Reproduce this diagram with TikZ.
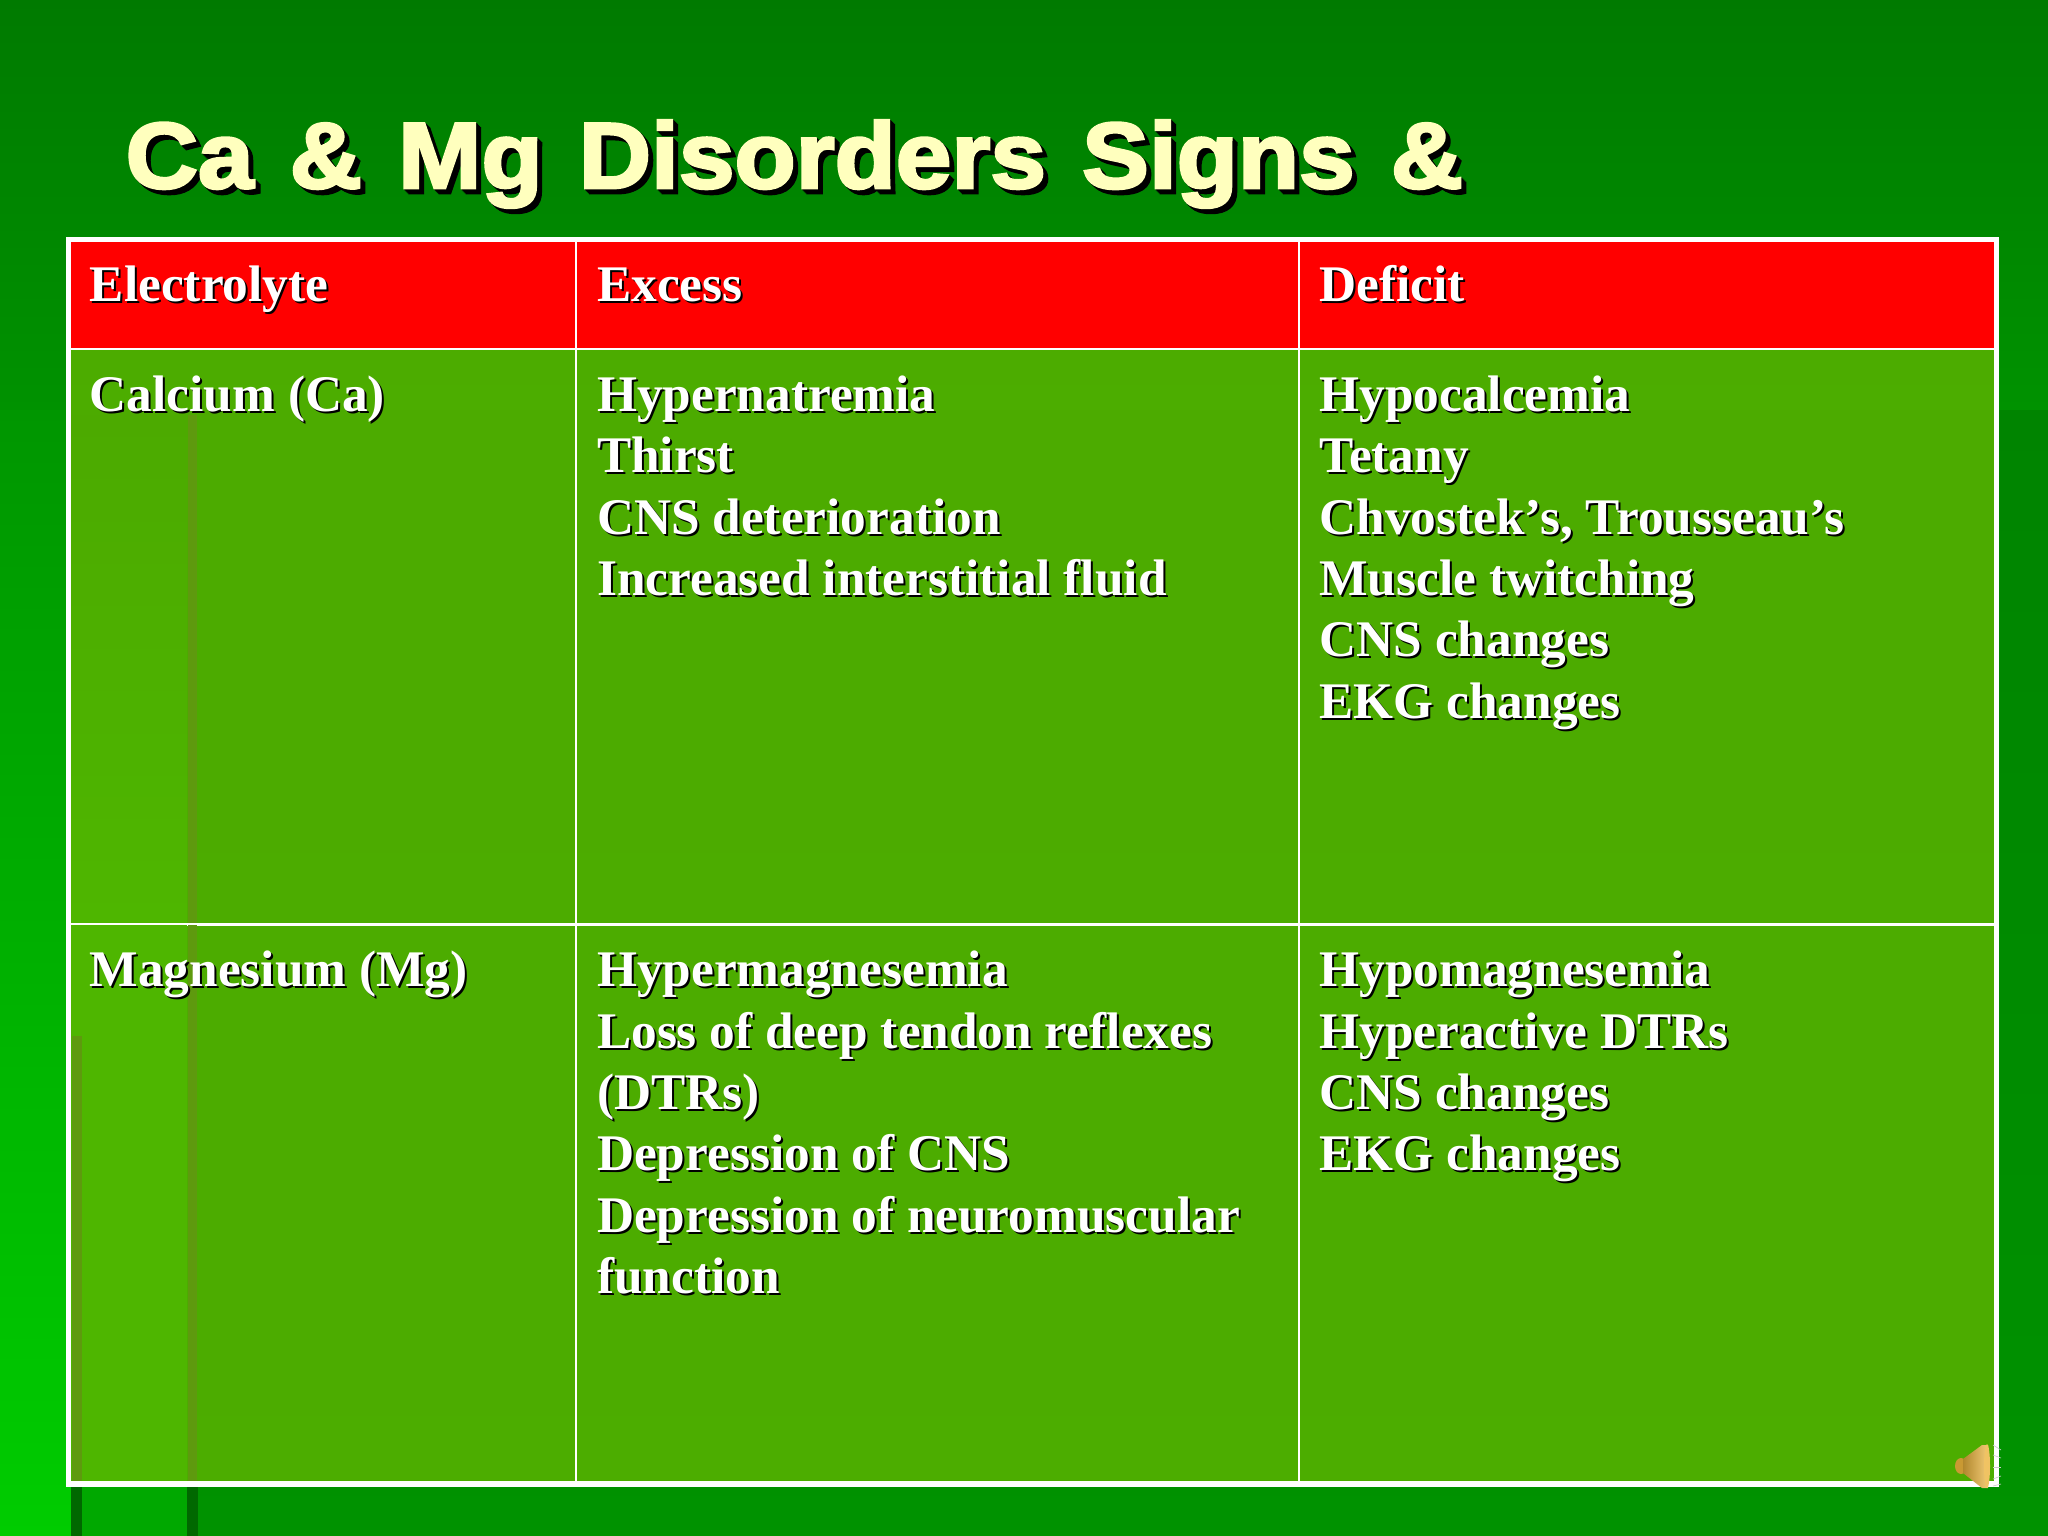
\documentclass[tikz,border=0pt]{standalone}
\usepackage{fontspec}
\setmainfont{Liberation Serif}
\newfontfamily\titlefont[FakeStretch=1.07,WordSpace=1.3,BoldFeatures={FakeBold=3}]{Liberation Sans}
\usetikzlibrary{matrix,positioning,calc}
\definecolor{slidetop}{RGB}{0,122,0}
\definecolor{slidemid}{RGB}{0,146,0}
\definecolor{slideband}{RGB}{0,132,0}
\definecolor{slideleft}{RGB}{0,204,0}
\definecolor{slidestrip}{RGB}{0,150,0}
\definecolor{slidepanel}{RGB}{0,168,0}
\definecolor{cellgreen}{RGB}{90,178,0}
\definecolor{cellbright}{RGB}{78,182,0}
\definecolor{cellplain}{RGB}{76,170,0}
\definecolor{cellred}{RGB}{255,0,0}
\definecolor{titleyellow}{RGB}{255,255,190}
\definecolor{stripegreen}{RGB}{0,104,0}
\definecolor{stripecell}{RGB}{94,154,14}
\definecolor{speakergold}{RGB}{236,180,60}
\newcommand{\celltext}[3]{%
    \node[cell text,text=black,xshift=0.02cm,yshift=-0.02cm] (#1-shadow) at (#2) {\strut #3};
    \node[cell text] (#1) at (#2) {\strut #3};
}
\tikzset{
    cell text/.style={anchor=north west,align=left,text=white,inner sep=0pt,
        font=\fontsize{14.6}{17.45}\selectfont\bfseries},
    title text/.style={anchor=base west,inner sep=0pt,
        font=\fontsize{26.6}{30}\titlefont\bfseries},
    grid cell/.style={rectangle,draw=white,line width=0.012cm,inner sep=0pt,outer sep=0pt,
        fill=cellgreen,fill opacity=0.85},
    stripe/.style={draw=none,fill=stripegreen},
    stripe in cell/.style={draw=none,fill=stripecell}
}

\begin{document}
\begin{tikzpicture}[x=0.01cm,y=-0.01cm]
\useasboundingbox (0,0) rectangle (2048,1536);

%slide background in bands
\shade[top color=slidetop,bottom color=slidemid] (0,0) rectangle (2048,410);
\shade[top color=slideband,bottom color=slidemid] (0,410) rectangle (2048,1536);
\shade[top color=slidestrip,bottom color=slideleft] (0,410) rectangle (71,1536);
\fill[slidepanel] (82,1484) rectangle (187,1536);

%stripes below the table
\fill[stripe] (71,1484) rectangle (82,1536);
\fill[stripe] (187,1484) rectangle (198,1536);

%grid of the table (m-row-column)
\matrix[matrix of nodes,
        inner sep=0pt,
        outer sep=0pt,
        column sep=0pt,
        row sep=0pt,
        nodes={grid cell},
        nodes in empty cells,
        column 1/.style={nodes={minimum width=5.068cm}},
        column 2/.style={nodes={minimum width=7.208cm}},
        column 3/.style={nodes={minimum width=6.968cm}},
        row 1/.style={nodes={minimum height=1.088cm}},
        row 2/.style={nodes={minimum height=5.738cm}},
        row 3/.style={nodes={minimum height=5.588cm}},
        anchor=north west
        ] (m) at (68,239) {
    |[fill=cellred,fill opacity=1]| & |[fill=cellred,fill opacity=1]| & |[fill=cellred,fill opacity=1]| \\
    & & \\
    & & \\
    };

%brighter left panel and stripes seen through the cells
\shade[top color=cellplain,bottom color=cellbright] (71,415) rectangle (187,924);
\fill[cellbright] (71,924) rectangle (187,1482);
\fill[stripe in cell] (188,415) rectangle (197,1482);
\fill[stripe in cell] (72,1036) rectangle (82,1482);
\draw[white,line width=0.025cm] (m-2-1.south west) -- (m-2-3.south east);
\draw[white,line width=0.055cm] (m-1-1.north west) -- (m-1-3.north east) -- (m-3-3.south east) -- (m-3-1.south west) -- cycle;

%title with its block shadow
\foreach \d in {1,...,5}{
    \node[title text,text=black] (title-\d) at ($(125,188)+(\d,\d)$) {Ca \& Mg Disorders Signs \&};
}
\node[title text,text=titleyellow] (title) at (125,188) {Ca \& Mg Disorders Signs \&};

\celltext{head-a}{$(m-1-1.north west)+(20.5,18)$}{Electrolyte}
\celltext{head-b}{$(m-1-2.north west)+(19.5,18)$}{Excess}
\celltext{head-c}{$(m-1-3.north west)+(19.5,18)$}{Deficit}

\celltext{ca-a}{$(m-2-1.north west)+(20.5,18)$}{Calcium (Ca)}
\celltext{ca-b}{$(m-2-2.north west)+(19.5,18)$}{Hypernatremia\\Thirst\\CNS deterioration\\Increased interstitial fluid}
\celltext{ca-c}{$(m-2-3.north west)+(19.5,18)$}{Hypocalcemia\\Tetany\\Chvostek’s, Trousseau’s\\Muscle twitching\\CNS changes\\EKG changes}

\celltext{mg-a}{$(m-3-1.north west)+(20.5,18)$}{Magnesium (Mg)}
\celltext{mg-b}{$(m-3-2.north west)+(19.5,18)$}{Hypermagnesemia\\Loss of deep tendon reflexes\\(DTRs)\\Depression of CNS\\Depression of neuromuscular\\function}
\celltext{mg-c}{$(m-3-3.north west)+(19.5,18)$}{Hypomagnesemia\\Hyperactive DTRs\\CNS changes\\EKG changes}

%speaker icon
\fill[speakergold!85!black] (1961,1466) ellipse (6 and 8);
\shade[left color=speakergold!75!black,right color=speakergold!70!white]
    (1963,1459) -- (1982,1445) -- (1988,1445) -- (1988,1488) -- (1982,1488) -- (1963,1473) -- cycle;
\fill[speakergold!80!white] (1987,1466) ellipse (3 and 22);
\foreach \a/\b in {1445/1450,1455/1458,1467/1467,1479/1476,1486/1484}{
    \draw[gray!40,line width=0.006cm] (1993,\a) -- (2001,\b);
}
\end{tikzpicture}
\end{document}
